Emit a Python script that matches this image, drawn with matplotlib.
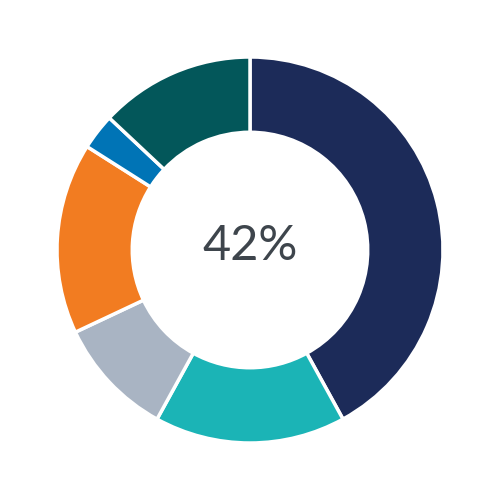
import matplotlib.pyplot as plt

# parts of the ring, clockwise from the top
labels = ['A', 'B', 'C', 'D', 'E', 'F']
valeurs = [42, 16, 10, 16, 3, 13]
couleurs = ['#1c2b59', '#1bb4b6', '#a9b4c3', '#f27c21', '#0074b6', '#03575a']
texte_centre = '42%'

fig = plt.figure(figsize=(5, 5), dpi=100)
ax = fig.add_axes([0, 0, 1, 1])

ax.pie(valeurs, colors=couleurs, startangle=90, counterclock=False,
       radius=1.0, wedgeprops=dict(width=0.39, edgecolor='white', linewidth=2.5))
ax.text(0, 0.02, texte_centre, ha='center', va='center', fontsize=35,
        color='#3e454c', family=['Lato', 'DejaVu Sans'], fontweight='normal')

lim = 250 / 193
ax.set_xlim(-lim, lim)
ax.set_ylim(-lim, lim)
ax.set_aspect('equal')
ax.axis('off')

fig.savefig('out.png', dpi=100, facecolor='white')
